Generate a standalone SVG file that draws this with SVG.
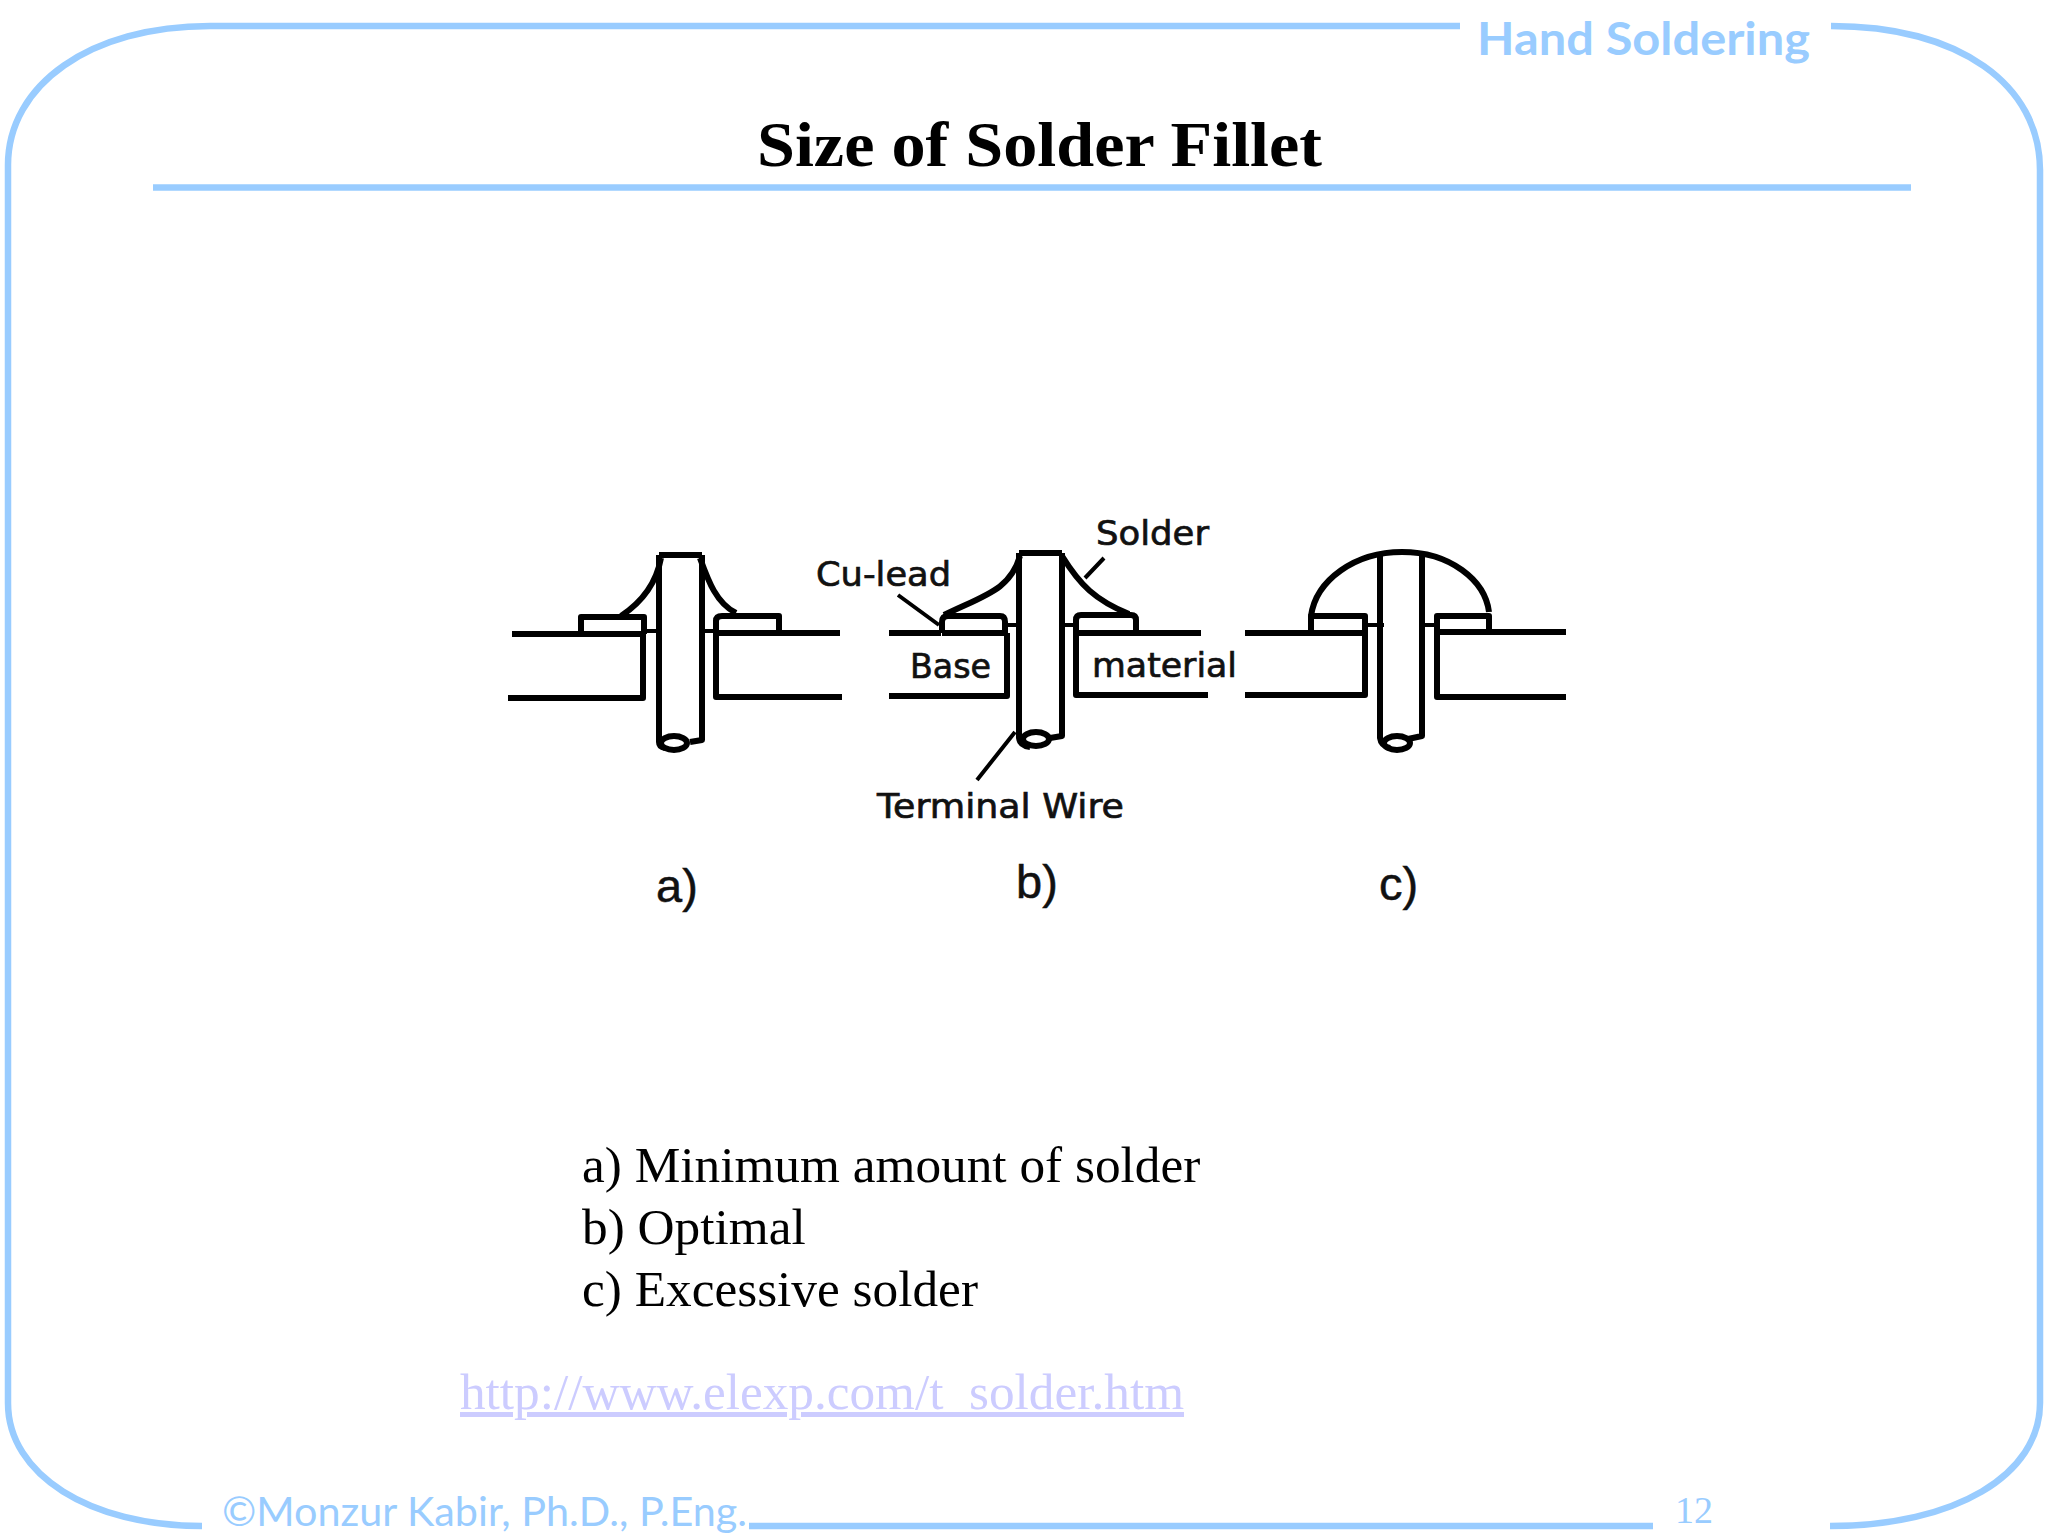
<svg xmlns="http://www.w3.org/2000/svg" width="2048" height="1536" viewBox="0 0 2048 1536">
<style>
.frame{fill:none;stroke:#99ccff;stroke-width:6.5}
.ink{fill:none;stroke:#000;stroke-width:6;stroke-linejoin:round}
.thin{fill:none;stroke:#000;stroke-width:4}
.lab{font-family:"DejaVu Sans",sans-serif;font-size:34px;fill:#111;stroke:#111;stroke-width:.7}
.cap{font-family:"Liberation Sans",sans-serif;font-size:47px;fill:#111;stroke:#111;stroke-width:.5}
.body{font-family:"Liberation Serif",serif;font-size:51.300px;fill:#000}
.hand{font-family:"Lato","Open Sans",sans-serif;fill:#99ccff}
</style>
<rect width="2048" height="1536" fill="#fff"/>
<g id="frame">
<path class="frame" d="M1460 26H210C90 26 8 85 8 165V1403C8 1475 90 1526 202 1526"/>
<path class="frame" d="M1831 26C1960 26 2040 85 2040 170V1403C2040 1475 1955 1526 1830 1526"/>
<path class="frame" d="M749 1526H1653"/>
<path class="frame" d="M153 187.500H1911"/>
</g>
<text id="header" class="hand" x="1477" y="55" font-size="46" font-weight="700" textLength="333" lengthAdjust="spacingAndGlyphs">Hand Soldering</text>
<text id="title" x="757" y="166" font-family="'Liberation Serif',serif" font-weight="700" font-size="64" textLength="565" lengthAdjust="spacingAndGlyphs">Size of Solder Fillet</text>
<g id="figure-a">
<path class="ink" d="M512 634H643V698H508"/>
<path class="ink" d="M581 633V617H644V634"/>
<path class="ink" d="M840 633H716V697H842"/>
<path class="ink" d="M716 633V621Q716 616 722 616H779V633"/>
<path class="ink" d="M659 555H702M659 555V742Q659 747 665 748M702 555V740L690 742"/>
<ellipse class="ink" cx="674" cy="743" rx="13" ry="7"/>
<path class="ink" d="M661 558C657 580 645 600 621 616M700 558C708 580 716 603 736 613"/>
<path class="thin" d="M644 631H657M702 631H715"/>
</g>
<g id="figure-b">
<path class="ink" d="M889 633H941M1007 633V696H889"/>
<path class="ink" d="M942 633V622Q942 616 948 616H1000Q1005 616 1005 622V633H942"/>
<path class="ink" d="M1201 633H1076V695H1208"/>
<path class="ink" d="M1076 633V620Q1076 615 1081 615H1131Q1136 615 1136 620V633"/>
<path class="ink" d="M1019 553H1062M1019 553V738Q1020 746 1030 747M1062 553V736L1050 738"/>
<ellipse class="ink" cx="1036" cy="739" rx="13" ry="7"/>
<path class="ink" d="M1020 556C1010 590 985 595 944 615M1062 556C1080 585 1095 600 1129 614"/>
<path class="thin" d="M1007 625H1018M1063 625H1075"/>
</g>
<g id="figure-c">
<path class="ink" d="M1245 633H1365V695H1245"/>
<path class="ink" d="M1311 633V616H1365V633"/>
<path class="ink" d="M1566 632H1437V697H1566"/>
<path class="ink" d="M1437 633V616H1489V632"/>
<path class="ink" d="M1380 553V738Q1381 746 1390 748M1422 553V736L1408 739"/>
<ellipse class="ink" cx="1397" cy="743" rx="13" ry="7"/>
<path class="ink" d="M1311 616C1316 580 1355 552 1402 552C1450 552 1485 580 1489 612"/>
<path class="thin" d="M1367 625H1384M1424 625H1436"/>
</g>
<g id="connectors">
<path class="thin" d="M898 595L939 625M1015 732L977 780M1104 558L1085 578"/>
</g>
<g id="labels">
<text class="lab" x="816" y="586" textLength="135" lengthAdjust="spacingAndGlyphs">Cu-lead</text>
<text class="lab" x="1096" y="545" textLength="113" lengthAdjust="spacingAndGlyphs">Solder</text>
<text class="lab" x="910" y="678" textLength="81" lengthAdjust="spacingAndGlyphs">Base</text>
<text class="lab" x="1092" y="677" textLength="145" lengthAdjust="spacingAndGlyphs">material</text>
<text class="lab" x="877" y="818" textLength="247" lengthAdjust="spacingAndGlyphs">Terminal Wire</text>
<text class="cap" x="656" y="902">a)</text>
<text class="cap" x="1016" y="898">b)</text>
<text class="cap" x="1379" y="900">c)</text>
</g>
<g id="legend">
<text class="body" x="582" y="1182">a) Minimum amount of solder</text>
<text class="body" x="582" y="1244">b) Optimal</text>
<text class="body" x="582" y="1306">c) Excessive solder</text>
<text x="460" y="1409" font-family="'Liberation Serif',serif" font-size="50" fill="#ccccff" text-decoration="underline" textLength="724" lengthAdjust="spacingAndGlyphs">http://www.elexp.com/t_solder.htm</text>
</g>
<g id="footer">
<text class="hand" x="222" y="1526" font-size="40" textLength="525" lengthAdjust="spacingAndGlyphs">©Monzur Kabir, Ph.D., P.Eng.</text>
<text x="1675" y="1523" font-family="'Liberation Serif',serif" font-size="38" fill="#99ccff">12</text>
</g>
</svg>
